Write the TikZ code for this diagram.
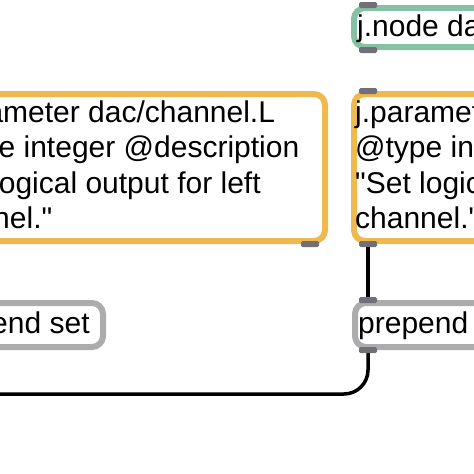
\documentclass[tikz,border=0pt]{standalone}
\usepackage{fontspec}
\setmainfont{Liberation Sans}
\usetikzlibrary{calc, positioning, backgrounds}
\definecolor{paramyellow}{RGB}{238, 186, 80}
\definecolor{nodegreen}{RGB}{136, 192, 166}
\definecolor{msggray}{RGB}{172, 172, 172}
\definecolor{portgray}{RGB}{112, 112, 118}

\begin{document}
\begin{tikzpicture}[
    x=1pt, y=-1pt,
    font=\fontsize{30}{35.5}\selectfont,
    maxbox/.style={rectangle, draw, line width=6pt, rounded corners=11pt, fill=white, anchor=north west, inner sep=0pt, minimum width=300pt},
    param/.style={maxbox, draw=paramyellow, minimum height=147pt},
    jnode/.style={maxbox, draw=nodegreen, minimum height=39pt},
    msg/.style={maxbox, draw=msggray, minimum height=44pt},
    boxtext/.style={anchor=base west, inner sep=0pt, align=left},
    port/.style={rectangle, fill=portgray, rounded corners=1.5pt, minimum width=18pt, minimum height=6pt, inner sep=0pt},
    cord/.style={draw=black, line width=3.5pt, rounded corners=24pt}
]
    \useasboundingbox (0,0) rectangle (474,474);
    \clip (0,0) rectangle (474,474);

    % objects
    \node [jnode] (node) at (351,5) {};
    \node [param, minimum width=405pt] (paramL) at (-83,91) {};
    \node [param] (paramR) at (351,91) {};
    \node [msg, minimum width=180pt] (prependL) at (-80,300) {};
    \node [msg] (prependR) at (352,300) {};

    % texts (base = last line)
    \node [boxtext] (nodetxt) at (357,36) {j.node dac};
    \node [boxtext] (paramLtxt) at (-72,228.5) {j.parameter dac/channel.L\\@type integer @description\\\textquotedbl Set logical output for left\\channel.\textquotedbl};
    \node [boxtext] (paramRtxt) at (355,228.5) {j.parameter dac/channel.R\\@type integer @description\\\textquotedbl Set logical output for right\\channel.\textquotedbl};
    \node [boxtext] (prependLtxt) at (-69,333) {prepend set};
    \node [boxtext] (prependRtxt) at (358,333) {prepend set};

    % inlets and outlets
    \node [port] (nodein) at ($(node.north west)+(17,0)$) {};
    \node [port] (nodeout) at ($(node.south west)+(17,0)$) {};
    \node [port] (paramLout) at ($(paramL.south east)+(-18,0)$) {};
    \node [port] (paramRin) at ($(paramR.north west)+(17,0)$) {};
    \node [port] (paramRout) at ($(paramR.south west)+(17,0)$) {};
    \node [port] (prependRin) at ($(prependR.north west)+(16,0)$) {};
    \node [port] (prependRout) at ($(prependR.south west)+(16,0)$) {};

    % patch cords
    \coordinate (offleft) at (-40,394);
    \begin{scope}[on background layer]
        \draw [cord] (paramRout.center) -- (prependRin.center);
        \draw [cord] (prependRout.center) |- (offleft);
    \end{scope}

\end{tikzpicture}
\end{document}
